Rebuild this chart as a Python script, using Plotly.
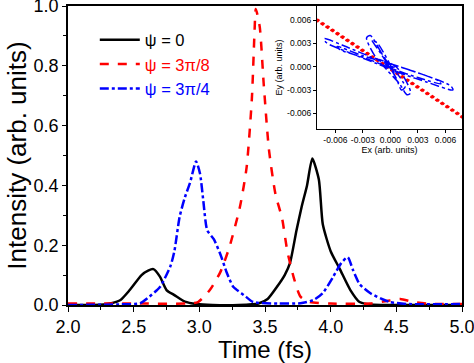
import plotly.graph_objects as go

# ---- main data ----
t_black = [2.0, 2.2, 2.27, 2.33, 2.40, 2.47, 2.56, 2.61, 2.65, 2.70, 2.75, 2.81, 2.89, 2.98, 3.1, 3.3, 3.45, 3.52, 3.59, 3.65, 3.69, 3.74, 3.78, 3.82, 3.86, 3.91, 3.94, 4.0, 4.07, 4.15, 4.22, 4.3, 4.6, 5.0]
i_black = [0.0, 0.0, 0.002, 0.006, 0.017, 0.05, 0.10, 0.115, 0.12, 0.095, 0.05, 0.033, 0.011, 0.003, 0.0, 0.0, 0.005, 0.02, 0.06, 0.10, 0.14, 0.25, 0.33, 0.40, 0.49, 0.42, 0.27, 0.18, 0.12, 0.05, 0.01, 0.002, 0.0, 0.0]

t_red = [2.0, 2.5, 2.9, 2.99, 3.08, 3.16, 3.23, 3.31, 3.36, 3.40, 3.42, 3.43, 3.46, 3.49, 3.53, 3.58, 3.63, 3.67, 3.72, 3.77, 3.84, 4.0, 4.3, 4.45, 4.53, 4.63, 4.75, 5.0]
i_red = [0.005, 0.005, 0.005, 0.01, 0.05, 0.11, 0.195, 0.33, 0.46, 0.69, 0.91, 0.99, 0.93, 0.74, 0.52, 0.37, 0.29, 0.18, 0.09, 0.028, 0.01, 0.005, 0.005, 0.015, 0.02, 0.01, 0.004, 0.003]

t_blue = [2.0, 2.4, 2.55, 2.62, 2.70, 2.78, 2.81, 2.85, 2.89, 2.93, 2.975, 3.005, 3.03, 3.06, 3.11, 3.16, 3.21, 3.26, 3.34, 3.41, 3.6, 3.77, 3.87, 3.94, 4.02, 4.08, 4.13, 4.17, 4.22, 4.30, 4.38, 4.45, 4.6, 5.0]
i_blue = [0.0, 0.002, 0.006, 0.028, 0.06, 0.13, 0.18, 0.295, 0.36, 0.41, 0.48, 0.44, 0.35, 0.25, 0.22, 0.17, 0.107, 0.06, 0.033, 0.01, 0.005, 0.006, 0.017, 0.04, 0.095, 0.14, 0.16, 0.117, 0.07, 0.04, 0.022, 0.01, 0.003, 0.003]

x_ticks = [2.0, 2.5, 3.0, 3.5, 4.0, 4.5, 5.0]
x_ticklabels = ["2.0", "2.5", "3.0", "3.5", "4.0", "4.5", "5.0"]
y_ticks = [0.0, 0.2, 0.4, 0.6, 0.8, 1.0]
y_ticklabels = ["0.0", "0.2", "0.4", "0.6", "0.8", "1.0"]

# ---- inset data (Ex, Ey) ----
ex_red = [-0.0080, 0.0079, -0.0080, 0.0079]
ey_red = [0.0061, -0.0064, 0.0059, -0.0066]

ex_blue = [0.0, -0.0010, -0.0022, -0.0026, -0.0016, -0.0004, 0.0010, 0.0018, 0.0022, 0.0014, 0.0004,
           -0.0020, -0.0045, -0.0072, -0.0070, -0.0045, -0.0015, 0.0015, 0.0040, 0.0068, 0.0066, 0.0040, 0.0010,
           -0.0030, -0.0058, -0.0055, -0.0025, 0.0005, 0.0030, 0.0055, 0.0052, 0.0020,
           -0.0008, 0.0006, -0.0004, 0.0008, -0.0006, 0.0004,
           -0.0014, -0.0020, -0.0010, 0.0006, 0.0012, 0.0016, 0.0004, 0.0]
ey_blue = [0.0, 0.0018, 0.0040, 0.0037, 0.0012, -0.0004, -0.0022, -0.0036, -0.0034, -0.0012, 0.0002,
           0.0012, 0.0024, 0.0036, 0.0031, 0.0018, 0.0004, -0.0010, -0.0020, -0.0030, -0.0025, -0.0012, 0.0,
           0.0014, 0.0026, 0.0022, 0.0010, -0.0004, -0.0014, -0.0022, -0.0018, -0.0004,
           0.0006, -0.0006, 0.0002, -0.0002, 0.0008, -0.0008,
           0.0030, 0.0034, 0.0016, -0.0014, -0.0030, -0.0026, -0.0004, 0.0]

inset_ticks = [-0.006, -0.003, 0.0, 0.003, 0.006]
inset_ticklabels = ["-0.006", "-0.003", "0.000", "0.003", "0.006"]

fig = go.Figure()
fig.add_trace(go.Scatter(x=t_black, y=i_black, mode="lines", name="ψ = 0",
                         line=dict(color="black", width=2.5, shape="spline", smoothing=0.6)))
fig.add_trace(go.Scatter(x=t_red, y=i_red, mode="lines", name='<span style="color:#ff0000">ψ = 3π/8</span>',
                         line=dict(color="#ff0000", width=2.5, dash="dash", shape="spline", smoothing=0.6)))
fig.add_trace(go.Scatter(x=t_blue, y=i_blue, mode="lines", name='<span style="color:#0000ff">ψ = 3π/4</span>',
                         line=dict(color="#0000ff", width=2.5, dash="dashdot", shape="spline", smoothing=0.6)))

fig.add_trace(go.Scatter(x=ex_red, y=ey_red, mode="lines", showlegend=False, xaxis="x2", yaxis="y2",
                         line=dict(color="#ff0000", width=2.2, dash="dot")))
fig.add_trace(go.Scatter(x=ex_blue, y=ey_blue, mode="lines", showlegend=False, xaxis="x2", yaxis="y2",
                         line=dict(color="#0000ff", width=1.5, dash="dashdot", shape="spline", smoothing=0.8)))

font_main = "Liberation Sans, Arial, sans-serif"
fig.update_layout(
    width=474, height=363,
    margin=dict(l=68, r=12, t=6, b=58, autoexpand=False),
    paper_bgcolor="white", plot_bgcolor="white",
    font=dict(family=font_main, color="black"),
    xaxis=dict(domain=[0, 1], range=[2.0, 5.0], tickvals=x_ticks, ticktext=x_ticklabels,
               showline=True, mirror=True, linecolor="black", linewidth=1.5,
               ticks="outside", ticklen=5, tickwidth=1.2, tickcolor="black",
               minor=dict(dtick=0.25, ticks="outside", ticklen=3, tickcolor="black"),
               showgrid=False, zeroline=False, tickfont=dict(size=18), automargin=False,
               ticklabeloverflow="allow",
               title=dict(text="Time (fs)", font=dict(size=24), standoff=3)),
    yaxis=dict(domain=[0, 1], range=[0, 1.0], tickvals=y_ticks, ticktext=y_ticklabels,
               showline=True, mirror=True, linecolor="black", linewidth=1.5,
               ticks="outside", ticklen=4, tickwidth=1.2, tickcolor="black",
               minor=dict(dtick=0.1, ticks="outside", ticklen=3, tickcolor="black"),
               showgrid=False, zeroline=False, tickfont=dict(size=18), automargin=False,
               ticklabeloverflow="allow", ticklabelstandoff=0,
               title=dict(text="Intensity (arb. units)", font=dict(size=26), standoff=0)),
    xaxis2=dict(domain=[0.632, 1.0], anchor="y2", range=[-0.0080, 0.0078],
                tickvals=inset_ticks, ticktext=inset_ticklabels,
                showline=True, mirror=True, linecolor="black", linewidth=1.2,
                ticks="outside", ticklen=3, tickcolor="black", automargin=False,
                showgrid=False, zeroline=False, tickfont=dict(size=8.5),
                title=dict(text="Ex (arb. units)", font=dict(size=9), standoff=2)),
    yaxis2=dict(domain=[0.589, 1.0], anchor="x2", range=[-0.0080, 0.0078],
                tickvals=inset_ticks, ticktext=inset_ticklabels,
                showline=True, mirror=True, linecolor="black", linewidth=1.2,
                ticks="outside", ticklen=3, tickcolor="black", automargin=False,
                showgrid=False, zeroline=False, tickfont=dict(size=8.5),
                title=dict(text="Ey (arb. units)", font=dict(size=9), standoff=2)),
    legend=dict(x=0.068, y=0.945, xanchor="left", yanchor="top", bgcolor="rgba(0,0,0,0)",
                font=dict(size=16.5), tracegroupgap=0, itemwidth=40),
    showlegend=True,
)

fig.write_html("out.html", config={"displayModeBar": False},
               post_script="document.body.style.margin='0';document.body.style.overflow='hidden';")
